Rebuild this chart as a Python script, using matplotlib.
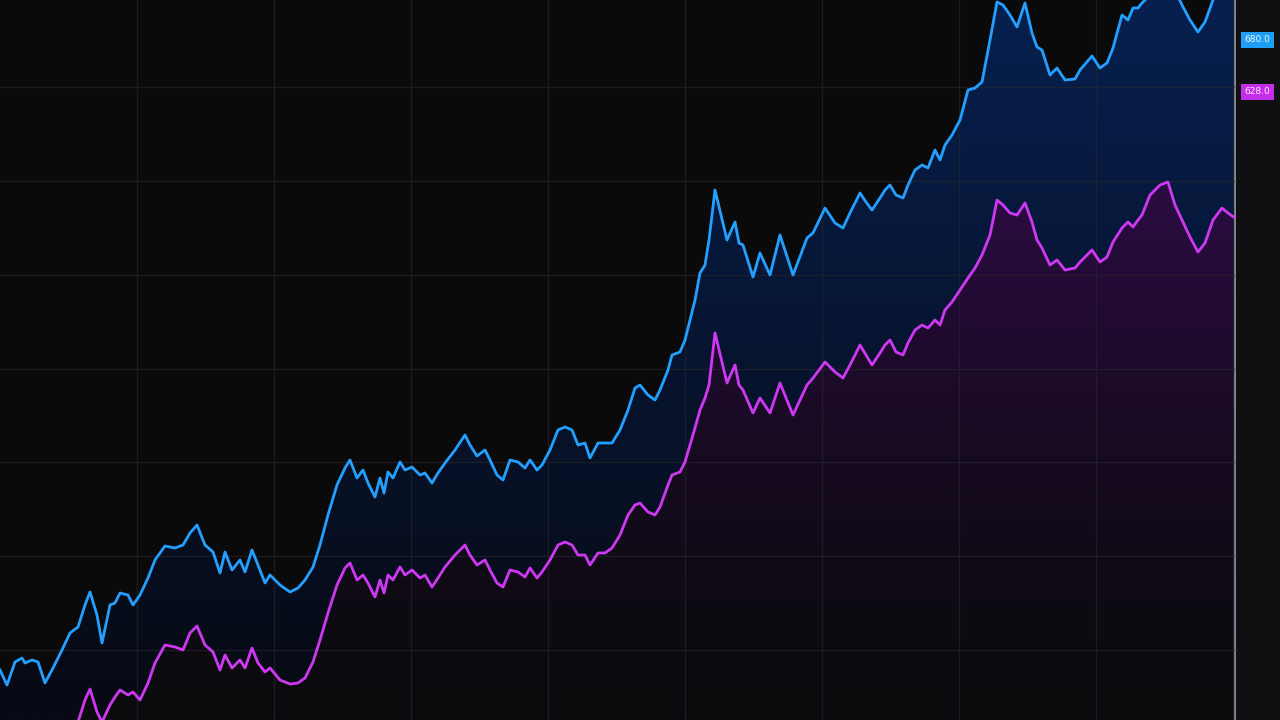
import numpy as np
import matplotlib
matplotlib.use("Agg")
import matplotlib.pyplot as plt
from matplotlib.colors import to_rgb

# time positions shared by both series
t = [0, 7, 15, 22, 25, 32, 38, 45, 53, 62, 70, 78, 85, 90, 97, 102, 110, 115, 120, 128,
     133, 140, 148, 155, 165, 175, 183, 190, 197, 205, 213, 220, 225, 232, 240, 245, 252, 258, 265, 270,
     280, 290, 298, 305, 313, 320, 328, 337, 345, 350, 357, 363, 368, 375, 380, 384, 388, 393, 400, 405,
     412, 420, 425, 432, 438, 445, 455, 465, 470, 477, 485, 490, 497, 503, 510, 518, 525, 530, 537, 542,
     550, 558, 565, 572, 578, 585, 590, 598, 605, 612, 620, 628, 635, 640, 648, 655, 660, 668, 672, 680,
     685, 695, 700, 705, 709, 715, 727, 735, 739, 743, 753, 760, 770, 780, 793, 807, 813, 825, 835, 843,
     850, 860, 866, 872, 880, 885, 890, 896, 903, 908, 915, 922, 928, 935, 940, 945, 952, 960, 968, 975,
     982, 990, 997, 1003, 1010, 1017, 1025, 1032, 1037, 1042, 1050, 1057, 1065, 1075, 1080, 1092, 1100, 1107, 1113, 1122,
     1128, 1133, 1138, 1142, 1150, 1160, 1168, 1175, 1182, 1190, 1198, 1205, 1213, 1222, 1228, 1235]

blue = [50, 35, 58, 62, 57, 60, 58, 37, 52, 70, 87, 93, 115, 128, 105, 77, 115, 117, 127, 125,
        115, 125, 142, 160, 174, 172, 175, 187, 195, 175, 168, 147, 168, 150, 160, 148, 170, 155, 137, 145,
        135, 128, 132, 140, 153, 175, 205, 235, 252, 260, 242, 250, 237, 223, 242, 227, 248, 242, 258, 250,
        253, 245, 247, 237, 247, 257, 270, 285, 275, 264, 270, 260, 245, 240, 260, 258, 252, 260, 250, 255,
        270, 290, 293, 290, 275, 277, 262, 277, 277, 277, 290, 310, 332, 335, 325, 320, 330, 350, 365, 368,
        380, 420, 447, 455, 480, 530, 480, 498, 477, 475, 443, 467, 445, 485, 445, 482, 487, 512, 497, 492,
        507, 527, 518, 510, 522, 530, 535, 525, 522, 535, 550, 555, 552, 570, 560, 575, 585, 600, 630, 632,
        638, 680, 718, 715, 705, 693, 717, 687, 673, 670, 645, 652, 640, 641, 650, 664, 652, 657, 672, 705,
        700, 712, 712, 717, 725, 735, 740, 730, 715, 700, 688, 698, 720, 732, 735, 738]

magenta = [-50, -65, -42, -38, -43, -40, -42, -63, -48, -30, -15, -2, 20, 31, 8, -2, 15, 23, 30, 25,
           28, 20, 37, 57, 75, 73, 70, 87, 94, 75, 68, 50, 65, 52, 60, 52, 72, 57, 48, 52,
           40, 36, 37, 42, 58, 80, 107, 135, 152, 157, 140, 145, 137, 123, 140, 127, 145, 140, 153, 145,
           150, 142, 145, 133, 142, 153, 165, 175, 165, 155, 160, 150, 137, 133, 150, 148, 143, 152, 142, 148,
           160, 175, 178, 175, 165, 165, 155, 167, 167, 172, 185, 205, 215, 217, 208, 205, 213, 235, 245, 248,
           258, 292, 310, 322, 335, 387, 337, 355, 335, 330, 307, 322, 307, 337, 305, 335, 342, 358, 348, 342,
           355, 375, 365, 355, 367, 375, 380, 368, 365, 377, 390, 395, 392, 400, 395, 410, 418, 430, 442, 452,
           465, 485, 520, 515, 507, 505, 517, 498, 480, 472, 455, 460, 450, 452, 458, 470, 458, 463, 478, 492,
           498, 493, 500, 505, 525, 535, 538, 515, 500, 483, 468, 477, 500, 512, 507, 502]

labels = ["680.0", "628.0"]

BG = "#0a0a0b"
BLUE = "#23a0ff"
MAG = "#cf38f2"


def grad_fill(ax, x, y, c_bot, c_top, z, gamma=1.0):
    poly = ax.fill_between(x, y, -100, facecolor="none", edgecolor="none")
    path = poly.get_paths()[0]
    a = np.array(to_rgb(c_bot))
    b = np.array(to_rgb(c_top))
    k = np.linspace(0, 1, 256)[:, None] ** gamma
    img = (a + (b - a) * k)[:, None, :]
    im = ax.imshow(img, aspect="auto", extent=[0, 1235, 0, 720], origin="lower",
                   zorder=z, interpolation="bilinear")
    im.set_clip_path(path, transform=ax.transData)


fig = plt.figure(figsize=(12.8, 7.2), dpi=100, facecolor="#101012")
ax = fig.add_axes([0, 0, 1235 / 1280, 1])
ax.set_facecolor(BG)

grad_fill(ax, t, blue, "#080a14", "#06204f", 1, 1.1)
grad_fill(ax, t, magenta, "#0b0a0d", "#3c0c5e", 2, 1.4)

ax.plot(t, blue, color=BLUE, lw=2.0, zorder=5, solid_joinstyle="round")
ax.plot(t, magenta, color=MAG, lw=2.0, zorder=5, solid_joinstyle="round")

ax.set_xlim(0, 1235)
ax.set_ylim(0, 720)
ax.set_xticks(np.arange(137, 1235, 137))
ax.set_yticks(np.arange(70, 720, 93.8))
ax.set_axisbelow(False)
ax.grid(True, color="#25252d", lw=1.0, alpha=0.65)
ax.tick_params(length=0, labelbottom=False, labelleft=False)
for s in ["top", "left", "bottom"]:
    ax.spines[s].set_visible(False)
ax.spines["right"].set_color("#8d93a0")
ax.spines["right"].set_linewidth(1.3)

# value tags on the right edge
fig.text(0.9725, 1 - 40 / 720, labels[0], color="#e8f4ff", fontsize=6.5, va="center", ha="left",
         bbox=dict(boxstyle="square,pad=0.4", fc="#1e9ef5", ec="none"))
fig.text(0.9725, 1 - 92 / 720, labels[1], color="#fbe8ff", fontsize=6.5, va="center", ha="left",
         bbox=dict(boxstyle="square,pad=0.4", fc="#c52ee8", ec="none"))

fig.savefig("out.png", dpi=100, facecolor=fig.get_facecolor())
